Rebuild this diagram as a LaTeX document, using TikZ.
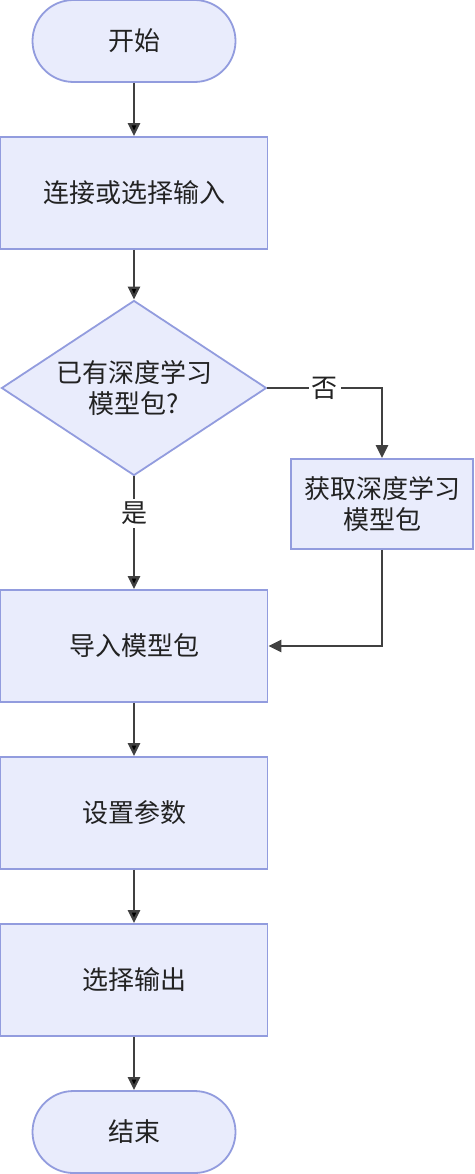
\documentclass[tikz,border=0pt]{standalone}
\usepackage{fontspec}
\newfontfamily\cjk{Noto Sans CJK SC}
\usetikzlibrary{shapes.geometric, positioning, arrows.meta}
\definecolor{boxfill}{RGB}{233,236,252}
\definecolor{boxline}{RGB}{146,156,222}
\definecolor{arrowgray}{RGB}{64,64,64}
\definecolor{textgray}{RGB}{34,34,34}

\begin{document}
\begin{tikzpicture}
	[x=1pt, y=-1pt, on grid,
	 every node/.style={font=\cjk\fontsize{26}{31}\selectfont, text=textgray},
	 base/.style={draw=boxline, fill=boxfill, line width=1.8pt, inner sep=0pt, align=center},
	 terminal/.style={base, rectangle, rounded corners=41pt, minimum width=203pt, minimum height=82pt},
	 process/.style={base, rectangle, minimum width=267pt, minimum height=112pt},
	 decision/.style={base, diamond, aspect=1.51, minimum width=265pt, minimum height=175pt},
	 flow/.style={-{Triangle[length=13pt,width=12pt]}, draw=arrowgray, line width=2.4pt},
	 answer/.style={fill=white, inner sep=3pt}]
   \useasboundingbox (0,0) rectangle (474,1174);
   \node[terminal] (start) at (134,41) {开始};
   \node[process] (input) [below=152pt of start] {连接或选择输入};
   \node[decision] (hasmodel) [below=195pt of input] {已有深度学习\\模型包?};
   \node[process, minimum width=182pt, minimum height=90pt] (getmodel) [below right=116pt and 248pt of hasmodel] {获取深度学习\\模型包};
   \node[process] (import) [below=258pt of hasmodel] {导入模型包};
   \node[process] (params) [below=167pt of import] {设置参数};
   \node[process] (output) [below=167pt of params] {选择输出};
   \node[terminal] (stop) [below=152pt of output] {结束};
    \path[flow]
    (start) edge (input)
    (input) edge (hasmodel)
    (hasmodel) edge node[answer, pos=0.33] {是} (import)
    (import) edge (params)
    (params) edge (output)
    (output) edge (stop);
    \draw[flow] (hasmodel) -| node[answer, pos=0.25] {否} (getmodel);
    \draw[flow] (getmodel) |- (import);
\end{tikzpicture}
\end{document}
